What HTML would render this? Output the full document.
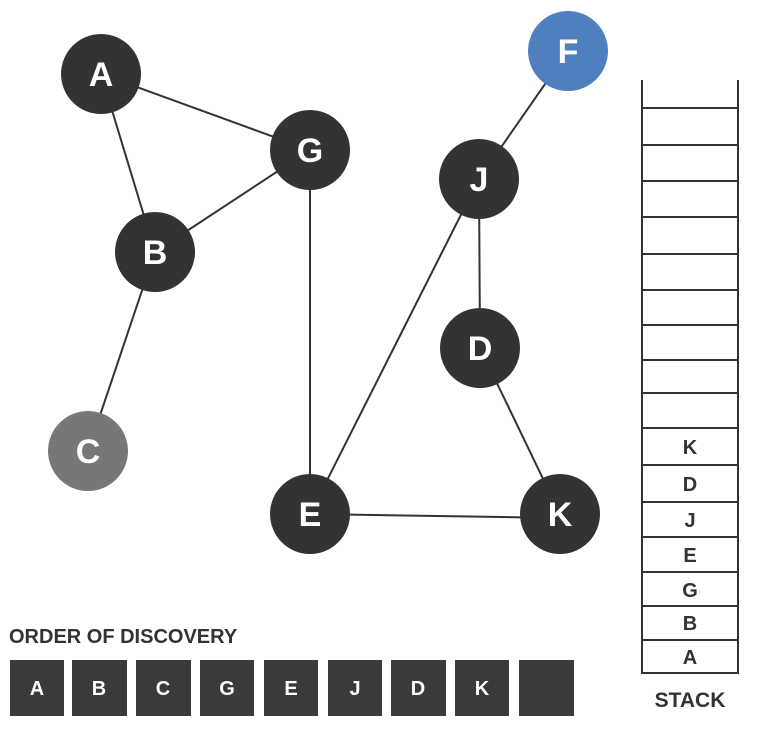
<!DOCTYPE html>
<html><head><meta charset="utf-8"><style>
body{margin:0;background:#fff;width:757px;height:725px;overflow:hidden;font-family:"Liberation Sans",Arial,sans-serif}
</style></head><body>
<svg width="757" height="725" viewBox="0 0 757 725" xmlns="http://www.w3.org/2000/svg" font-family="Liberation Sans, Arial, sans-serif" font-weight="bold">
<g stroke="#333" stroke-width="2">
<line x1="101" y1="74" x2="310" y2="150"/>
<line x1="101" y1="74" x2="155" y2="252"/>
<line x1="155" y1="252" x2="310" y2="150"/>
<line x1="155" y1="252" x2="88" y2="451"/>
<line x1="310" y1="150" x2="310" y2="514"/>
<line x1="310" y1="514" x2="560" y2="518"/>
<line x1="310" y1="514" x2="479" y2="179"/>
<line x1="479" y1="179" x2="480" y2="348"/>
<line x1="480" y1="348" x2="560" y2="514"/>
<line x1="479" y1="179" x2="568" y2="51"/>
</g>
<g font-size="34" text-anchor="middle" fill="#fff">
<circle cx="101" cy="74" r="40" fill="#333"/><text x="101" y="86">A</text>
<circle cx="310" cy="150" r="40" fill="#333"/><text x="310" y="162">G</text>
<circle cx="155" cy="252" r="40" fill="#333"/><text x="155" y="264">B</text>
<circle cx="88" cy="451" r="40" fill="#777"/><text x="88" y="463">C</text>
<circle cx="310" cy="514" r="40" fill="#333"/><text x="310" y="526">E</text>
<circle cx="560" cy="514" r="40" fill="#333"/><text x="560" y="526">K</text>
<circle cx="480" cy="348" r="40" fill="#333"/><text x="480" y="360">D</text>
<circle cx="479" cy="179" r="40" fill="#333"/><text x="479" y="191">J</text>
<circle cx="568" cy="51" r="40" fill="#4f7fbf"/><text x="568" y="63">F</text>
</g>
<g stroke="#333" stroke-width="2" fill="none">
<line x1="642" y1="80" x2="642" y2="673"/>
<line x1="738" y1="80" x2="738" y2="673"/>
<line x1="641" y1="673" x2="739" y2="673"/>
<line x1="642" y1="108" x2="738" y2="108"/>
<line x1="642" y1="145" x2="738" y2="145"/>
<line x1="642" y1="181" x2="738" y2="181"/>
<line x1="642" y1="217" x2="738" y2="217"/>
<line x1="642" y1="254" x2="738" y2="254"/>
<line x1="642" y1="290" x2="738" y2="290"/>
<line x1="642" y1="325" x2="738" y2="325"/>
<line x1="642" y1="360" x2="738" y2="360"/>
<line x1="642" y1="393" x2="738" y2="393"/>
<line x1="642" y1="428" x2="738" y2="428"/>
<line x1="642" y1="465" x2="738" y2="465"/>
<line x1="642" y1="502" x2="738" y2="502"/>
<line x1="642" y1="537" x2="738" y2="537"/>
<line x1="642" y1="572" x2="738" y2="572"/>
<line x1="642" y1="606" x2="738" y2="606"/>
<line x1="642" y1="640" x2="738" y2="640"/>
</g>
<g font-size="20" text-anchor="middle" fill="#333">
<text x="690" y="454">K</text>
<text x="690" y="491">D</text>
<text x="690" y="527">J</text>
<text x="690" y="562">E</text>
<text x="690" y="597">G</text>
<text x="690" y="630">B</text>
<text x="690" y="664">A</text>
<text x="690" y="707" font-size="21">STACK</text>
</g>
<text x="9" y="643" font-size="20" fill="#333">ORDER OF DISCOVERY</text>
<g fill="#3a3a3a">
<rect x="10" y="660" width="54" height="56"/><rect x="72" y="660" width="55" height="56"/><rect x="136" y="660" width="55" height="56"/><rect x="200" y="660" width="54" height="56"/><rect x="264" y="660" width="54" height="56"/><rect x="328" y="660" width="54" height="56"/><rect x="391" y="660" width="55" height="56"/><rect x="455" y="660" width="54" height="56"/><rect x="519" y="660" width="55" height="56"/>
</g>
<g font-size="20" text-anchor="middle" fill="#fff">
<text x="37" y="695">A</text><text x="99" y="695">B</text><text x="163" y="695">C</text><text x="227" y="695">G</text><text x="291" y="695">E</text><text x="355" y="695">J</text><text x="418" y="695">D</text><text x="482" y="695">K</text>
</g>
</svg>
</body></html>
